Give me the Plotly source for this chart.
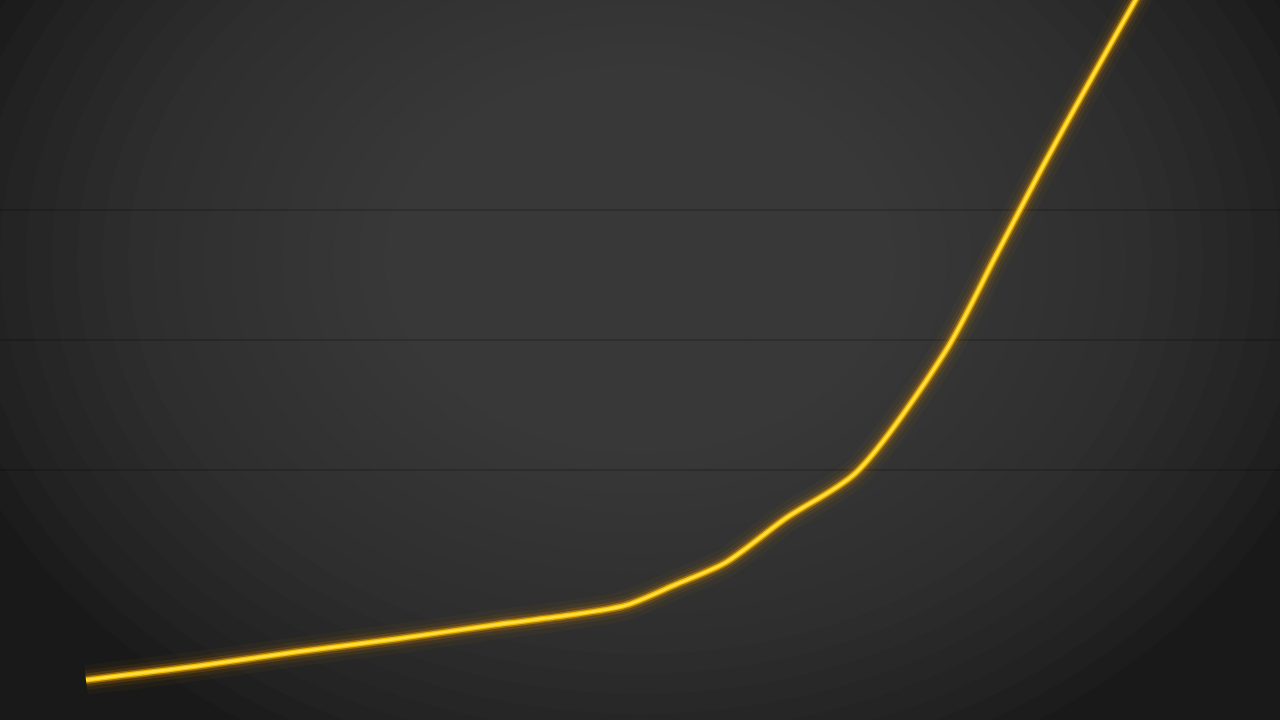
import plotly.graph_objects as go

# Data (arbitrary units)
x_vals = [0, 11, 21, 31, 41, 48, 54, 59, 64, 70, 77, 86, 91, 96, 105, 106.5]
y_vals = [0.385, 0.49, 0.60, 0.70, 0.81, 0.88, 0.96, 1.12, 1.29, 1.63, 1.98,
          2.92, 3.65, 4.38, 5.62, 5.82]
grid_vals = [2, 3, 4]

BG = "#191919"

fig = go.Figure()

glow = [
    (30, "rgba(200,110,0,0.05)"),
    (20, "rgba(210,130,0,0.09)"),
    (13, "rgba(230,150,0,0.17)"),
    (8, "rgba(250,175,0,0.40)"),
    (5, "#f2bd00"),
    (2.5, "#ffe040"),
]
for w, c in glow:
    fig.add_trace(go.Scatter(x=x_vals, y=y_vals, mode="lines",
                             line=dict(color=c, width=w, shape="spline", smoothing=0.8),
                             hoverinfo="skip", showlegend=False))

# radial vignette background via stacked translucent ellipses
shapes = []
N = 26
for i in range(N):
    f = 1 - i / N
    rx = 0.04 + 0.52 * f
    ry = 0.05 + 0.72 * f
    cx, cy = 0.5, 0.64
    shapes.append(dict(type="circle", xref="paper", yref="paper",
                       x0=cx - rx, x1=cx + rx, y0=cy - ry, y1=cy + ry,
                       fillcolor="rgb(66,66,66)", opacity=0.09,
                       line=dict(width=0), layer="below"))

fig.update_layout(
    width=1280, height=720,
    margin=dict(l=0, r=0, t=0, b=0),
    paper_bgcolor=BG, plot_bgcolor=BG,
    shapes=shapes,
    xaxis=dict(range=[-8.6, 119.4], showgrid=False, zeroline=False,
               showticklabels=False, showline=False),
    yaxis=dict(range=[0.0769, 5.615], showgrid=True, gridcolor="rgba(0,0,0,0.17)",
               gridwidth=2, tickvals=grid_vals, zeroline=False,
               showticklabels=False, showline=False),
    showlegend=False,
)

fig.write_html("out.html", config={"displayModeBar": False},
               post_script="document.body.style.margin='0';document.body.style.background='#191919';")
